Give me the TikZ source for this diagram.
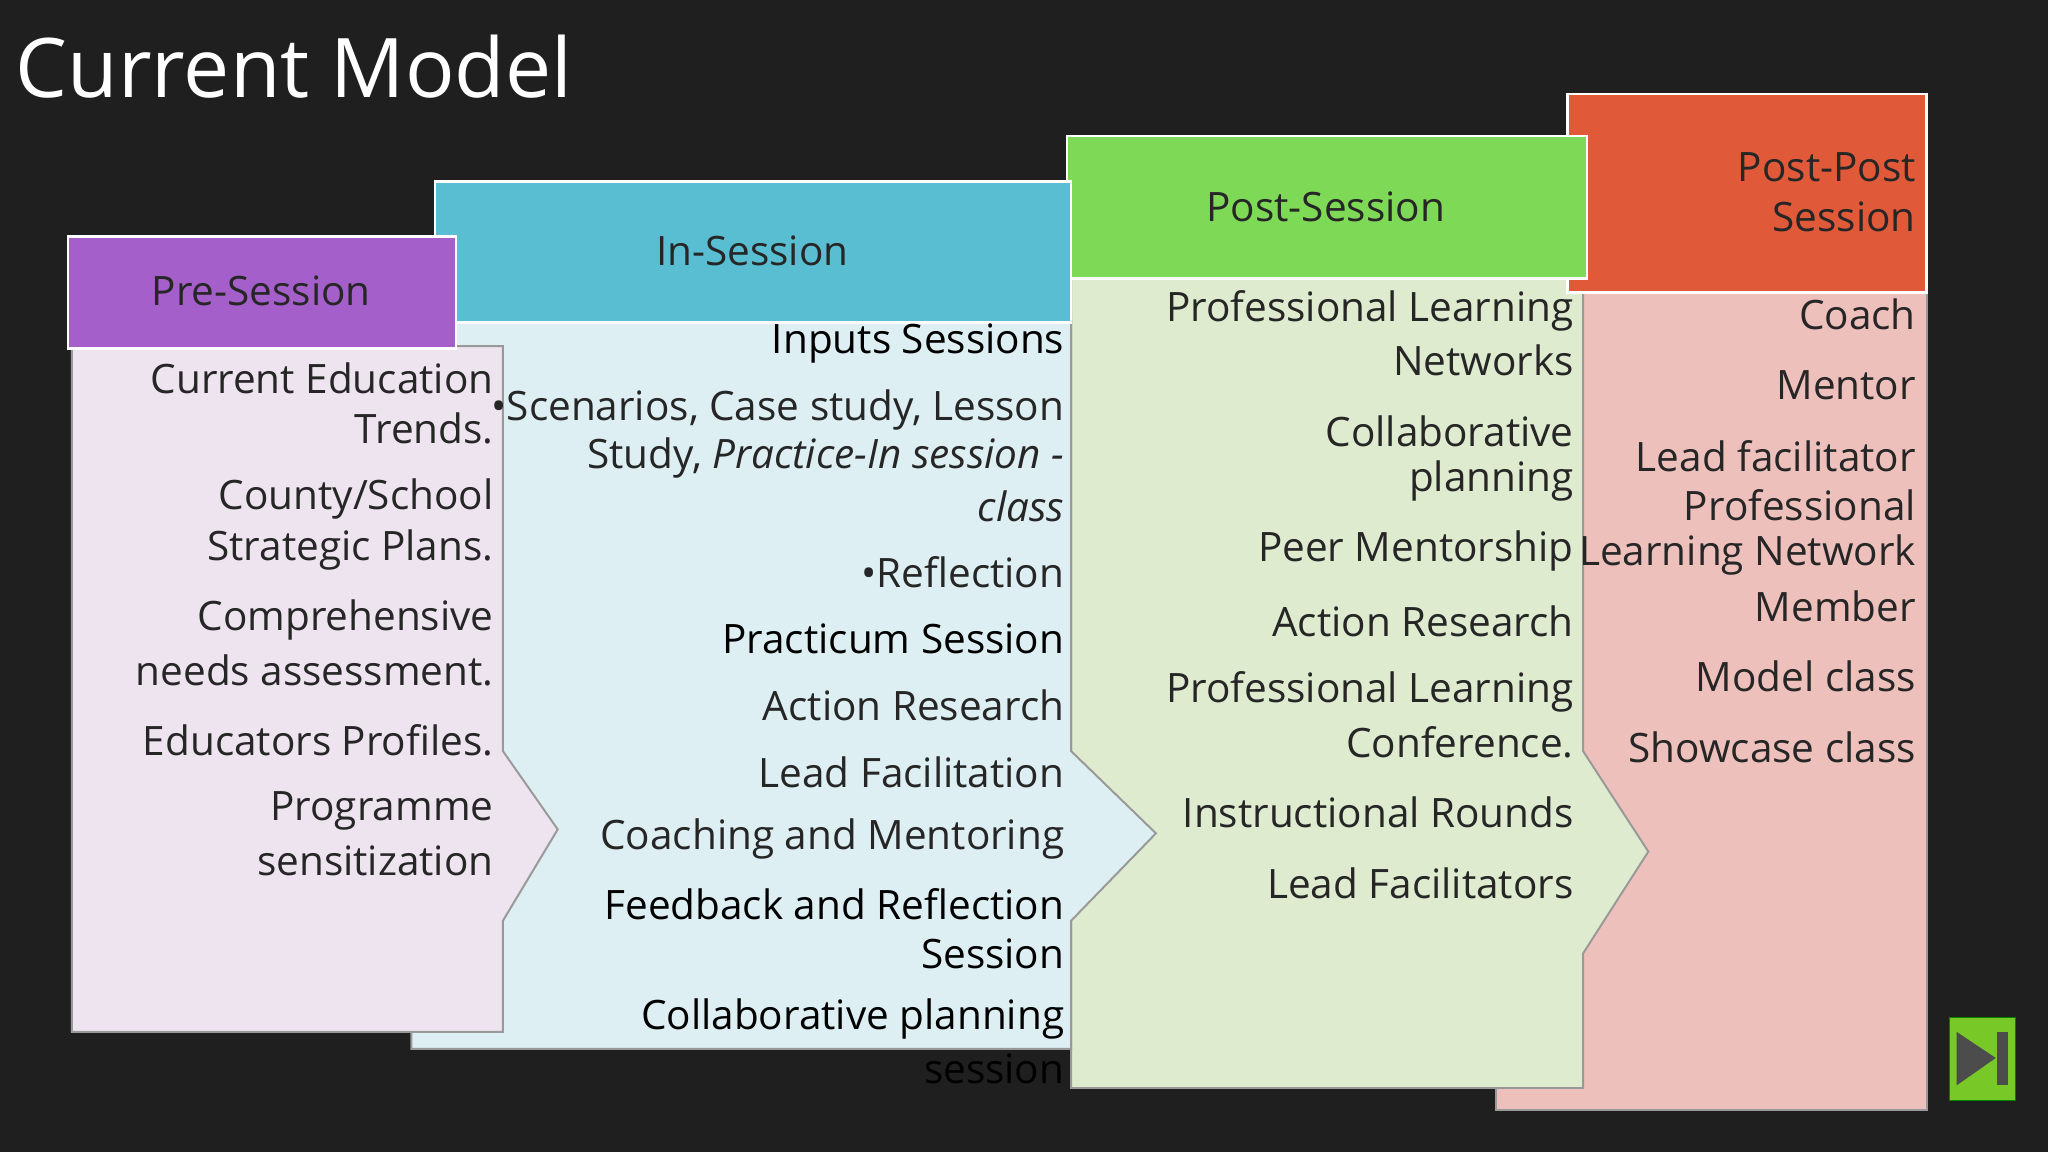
\documentclass[tikz,border=0pt]{standalone}
\usepackage{fontspec}
\setmainfont{Open Sans}
\begin{document}
\begin{tikzpicture}[x=1pt,y=-1pt,
  txt/.style={anchor=east,inner sep=0pt,font=\fontsize{31}{36}\selectfont,text=black!85},
  hd/.style={txt,text=black},
  htxt/.style={inner sep=0pt,font=\fontsize{31}{36}\selectfont,text=black!85},
  body/.style={draw=black!40,line width=1.5pt},
  head/.style={draw=white!60,line width=2pt}]
\fill[fill=black!88] (0,0) rectangle (1568,882);
\useasboundingbox (0,0) rectangle (1568,882);
\node[anchor=base west,inner sep=0pt,text=white,font=\fontsize{63}{70}\selectfont] (title) at (12,75) {Current Model};
% bodies
\draw[body,fill={rgb,255:red,237;green,192;blue,188}] (1145,224)--(1475,224)--(1475,850)--(1145,850)--cycle;
\draw[body,fill={rgb,255:red,222;green,235;blue,207}] (820,213)--(1212,213)--(1212,575)--(1262,652)--(1212,730)--(1212,833)--(820,833)--cycle;
\draw[body,fill={rgb,255:red,221;green,239;blue,242}] (315,245)--(820,245)--(820,575)--(885,638)--(820,705)--(820,803)--(315,803)--cycle;
\draw[body,fill={rgb,255:red,238;green,228;blue,240}] (55,265)--(385,265)--(385,575)--(427,635)--(385,705)--(385,790)--(55,790)--cycle;
% headers
\draw[head,fill={rgb,255:red,224;green,90;blue,58}] (1200,72) rectangle (1475,224);
\draw[head,fill={rgb,255:red,126;green,217;blue,87}] (817,104) rectangle (1215,213);
\draw[head,fill={rgb,255:red,90;green,190;blue,210}] (333,139) rectangle (820,247);
\draw[head,fill={rgb,255:red,165;green,95;blue,203}] (52,181) rectangle (349,267);
\node[htxt] (h1) at (200,223) {Pre-Session};
\node[htxt] (h2) at (576,192) {In-Session};
\node[htxt] (h3) at (1015,158) {Post-Session};
\node[htxt,anchor=east] (h4a) at (1467,128) {Post-Post};
\node[htxt,anchor=east] (h4b) at (1467,166) {Session};
% pre
\node[txt] (p1) at (378,290) {Current Education};
\node[txt] (p2) at (378,328) {Trends.};
\node[txt] (p3) at (378,382) {County/School};
\node[txt] (p4) at (378,421) {Strategic Plans.};
\node[txt] (p5) at (378,475) {Comprehensive};
\node[txt] (p6) at (378,513) {needs assessment.};
\node[txt] (p7) at (378,567) {Educators Profiles.};
\node[txt] (p8) at (378,621) {Programme};
\node[txt] (p9) at (378,659) {sensitization};
% in
\node[hd] (i1) at (815,263) {Inputs Sessions};
\node[txt] (i2) at (815,314) {•Scenarios, Case study, Lesson};
\node[txt] (i3) at (815,351) {Study, \textit{Practice-In session -}};
\node[txt] (i4) at (815,388) {\textit{class}};
\node[txt] (i5) at (815,438) {•Reflection};
\node[hd] (i6) at (815,489) {Practicum Session};
\node[txt] (i7) at (815,540) {Action Research};
\node[txt] (i8) at (815,591) {Lead Facilitation};
\node[txt] (i9) at (815,642) {Coaching and Mentoring};
\node[hd] (i10) at (815,692) {Feedback and Reflection};
\node[hd] (i11) at (815,730) {Session};
\node[hd] (i12) at (815,780) {Collaborative planning};
\node[hd] (i13) at (815,818) {session};
% post
\node[txt] (q1) at (1205,238) {Professional Learning};
\node[txt] (q2) at (1205,276) {Networks};
\node[txt] (q3) at (1205,330) {Collaborative};
\node[txt] (q4) at (1205,368) {planning};
\node[txt] (q5) at (1205,422) {Peer Mentorship};
\node[txt] (q6) at (1205,476) {Action Research};
\node[txt] (q7) at (1205,530) {Professional Learning};
\node[txt] (q8) at (1205,568) {Conference.};
\node[txt] (q9) at (1205,622) {Instructional Rounds};
\node[txt] (q10) at (1205,676) {Lead Facilitators};
% post-post
\node[txt] (r1) at (1467,241) {Coach};
\node[txt] (r2) at (1467,295) {Mentor};
\node[txt] (r3) at (1467,349) {Lead facilitator};
\node[txt] (r4) at (1467,387) {Professional};
\node[txt] (r5) at (1467,425) {Learning Network};
\node[txt] (r6) at (1467,464) {Member};
\node[txt] (r7) at (1467,518) {Model class};
\node[txt] (r8) at (1467,572) {Showcase class};
% play button
\draw[draw=green!50!black,fill={rgb,255:red,120;green,200;blue,40}] (1492,779) rectangle (1543,842);
\fill[black!70] (1498,790)--(1528,810)--(1498,831)--cycle;
\fill[black!70] (1529,790) rectangle (1537,831);
\end{tikzpicture}
\end{document}
